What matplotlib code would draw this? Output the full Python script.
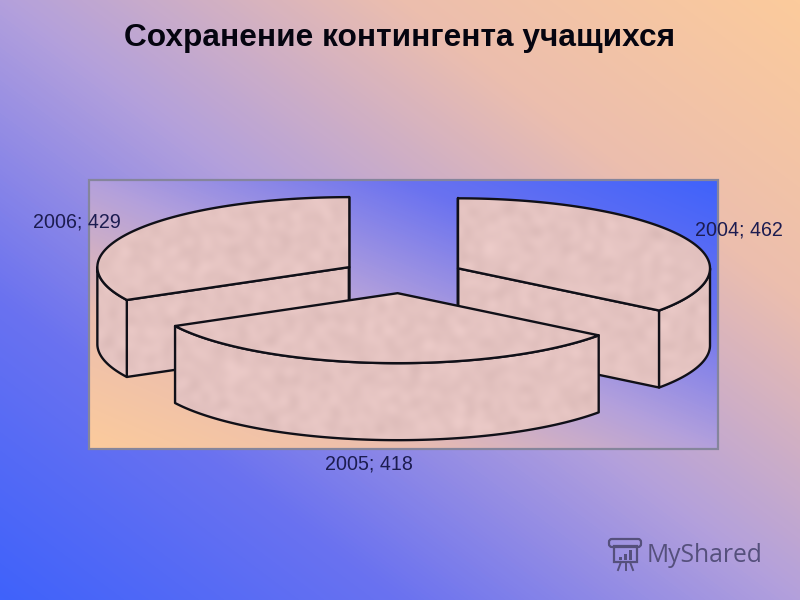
import numpy as np
import matplotlib
matplotlib.use("Agg")
import matplotlib.pyplot as plt
from matplotlib.colors import LinearSegmentedColormap
from matplotlib.patches import Polygon, Rectangle, FancyBboxPatch

# Data
years = ["2004", "2005", "2006"]
values = [462, 418, 429]
title_text = "Сохранение контингента учащихся"
watermark = "MyShared"

# Layout (pixels)
W, H = 800, 600
CX, CY = 402.5, 276.0
RX, RY = 252.0, 70.0
DEPTH = 77.0
EXPLODE = 62.0
PLOT = (89, 180, 718, 449)
LABEL_POS = [(738.5, 230), (369, 463.5), (76.5, 221.5)]

plt.rcParams["font.family"] = ["Liberation Sans", "DejaVu Sans"]

fig = plt.figure(figsize=(8, 6), dpi=100)
ax = fig.add_axes([0, 0, 1, 1])
ax.set_axis_off()

cmap = LinearSegmentedColormap.from_list(
    "bg", ["#3f62fb", "#6a72f0", "#b3a0dc", "#ecbeae", "#fccb9c"])

# Outer gradient: blue bottom-left to peach top-right
yy, xx = np.mgrid[0:H, 0:W]
t_outer = (xx / W + 1 - yy / H) / 2
ax.imshow(t_outer, cmap=cmap, vmin=0, vmax=1, extent=(0, W, H, 0), aspect="auto", zorder=0)

# Inner gradient: reversed
x0, y0, x1, y1 = PLOT
yi, xi = np.mgrid[0:y1 - y0, 0:x1 - x0]
t_inner = (xi / (x1 - x0) + 1 - yi / (y1 - y0)) / 2
ax.imshow(t_inner, cmap=cmap.reversed(), vmin=0, vmax=1,
          extent=(x0, x1, y1, y0), aspect="auto", zorder=1)
ax.add_patch(Rectangle((x0, y0), x1 - x0, y1 - y0, fill=False, ec="#85859c", lw=1.6, zorder=2))

# Pink stone texture, built from many crossing sine waves so that it looks mottled
tex = np.zeros((H, W))
for n in range(1, 60):
    ang = n * 2.39996
    freq = 0.07 + 0.017 * (n % 23)
    tex += np.sin(freq * (np.cos(ang) * xx + np.sin(ang) * yy) + n * 1.3)
tex = tex / np.abs(tex).max()
base = np.array([0.895, 0.765, 0.755])
tex_rgb = np.clip(base[None, None, :] + 0.04 * tex[:, :, None], 0, 1)

# Slices computed from the values
total = sum(values)
bounds = np.concatenate([[0], np.cumsum(values)]) / total * 2 * np.pi


def point(cx, cy, a, dz=0.0):
    return np.column_stack([cx + RX * np.sin(a), cy - RY * np.cos(a) + dz])


def face(poly, z):
    p = Polygon(poly, closed=True, transform=ax.transData, fc="none", ec="none")
    ax.add_patch(p)
    im = ax.imshow(tex_rgb, extent=(0, W, H, 0), aspect="auto", zorder=z)
    im.set_clip_path(p)
    ax.add_patch(Polygon(poly, closed=True, fc="none", ec="#101018", lw=1.7,
                         joinstyle="round", zorder=z + 0.1))


# Back slices first, the front slice last
order = [2, 0, 1]
for k, i in enumerate(order):
    a0, a1 = bounds[i], bounds[i + 1]
    mid = (a0 + a1) / 2
    cx = CX + EXPLODE * np.sin(mid)
    cy = CY - EXPLODE * (RY / RX) * np.cos(mid)
    z = 3 + k
    # radial walls
    if i == 0:
        walls = [a0, a1]
    elif i == 2:
        walls = [a1, a0]
    else:
        walls = []
    for a in walls:
        rim = point(cx, cy, np.array([a]))[0]
        face([(cx, cy), rim, (rim[0], rim[1] + DEPTH), (cx, cy + DEPTH)], z)
    # outer rim: the part facing the viewer
    lo, hi = max(a0, np.pi / 2), min(a1, 3 * np.pi / 2)
    arc = np.linspace(lo, hi, 120)
    face(np.vstack([point(cx, cy, arc), point(cx, cy, arc[::-1], DEPTH)]), z + 0.2)
    # top
    arc = np.linspace(a0, a1, 200)
    face(np.vstack([[(cx, cy)], point(cx, cy, arc)]), z + 0.4)

# Data labels
for y, v, (lx, ly) in zip(years, values, LABEL_POS):
    ax.text(lx, ly, f"{y}; {v}", ha="center", va="center", fontsize=14.1,
            color="#1c1c50", zorder=10)

ax.text(400, 38, title_text, ha="center", va="center", fontsize=22.8,
        fontweight="bold", color="#050510", zorder=10)

# Watermark
wm = "#55507c"
ax.add_patch(FancyBboxPatch((610, 540), 30, 6, boxstyle="round,pad=1,rounding_size=3",
                            fc="none", ec=wm, lw=1.6, zorder=10))
ax.add_patch(Rectangle((614, 546), 23, 16, fc="none", ec=wm, lw=1.6, zorder=10))
for bx, bh in zip([619, 624, 629], [3, 6, 10]):
    ax.add_patch(Rectangle((bx, 560 - bh), 3, bh, fc=wm, ec="none", zorder=10))
for xa, xb in [(621, 618), (625.5, 625.5), (630, 633)]:
    ax.plot([xa, xb], [562, 570], color=wm, lw=1.4, zorder=10)
ax.text(647, 555, watermark, ha="left", va="center", fontsize=17.7,
        family=["Open Sans", "DejaVu Sans"], color=wm, zorder=10)

ax.set_xlim(0, W)
ax.set_ylim(H, 0)
fig.savefig("out.png", dpi=100)
